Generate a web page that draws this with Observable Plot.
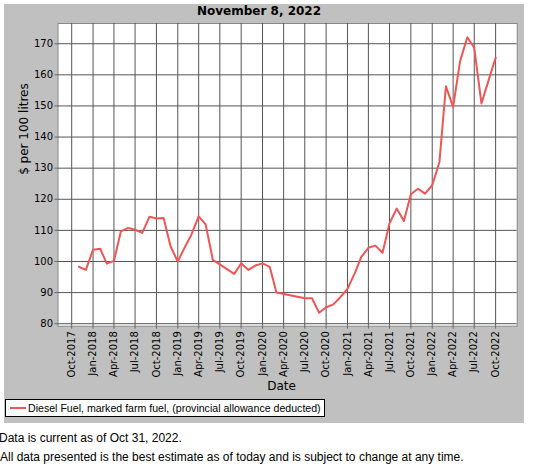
<!DOCTYPE html>
<html>
<head>
<meta charset="utf-8">
<script src="https://cdn.jsdelivr.net/npm/d3@7"></script>
<script src="https://cdn.jsdelivr.net/npm/@observablehq/plot@0.6"></script>
<style>
  body { margin: 0; background: white; font-family: "Liberation Sans", Arial, sans-serif; }
  #panel { position: absolute; left: 4px; top: 4px; width: 520px; height: 419px; background: #c0c0c0; }
  #title { height: 18px; line-height: 18px; text-align: center; padding-right: 10px; font: bold 12px "DejaVu Sans", sans-serif; }
  #legend { position: absolute; left: 1px; top: 395px; height: 16px; padding-right: 3px; border: 1px solid black; background: white;
            display: flex; align-items: center; font-size: 10.6px; white-space: nowrap; }
  #legend .swatch { flex: none; width: 16px; height: 2px; background: #f05555; margin: 0 2px 0 4px; }
  .note { position: absolute; font-size: 12px; line-height: 14px; white-space: nowrap; }
</style>
</head>
<body>
<div id="panel">
  <div id="title">November 8, 2022</div>
  <div id="chart"></div>
  <div id="legend"><span class="swatch"></span><span>Diesel Fuel, marked farm fuel, (provincial allowance deducted)</span></div>
</div>
<div class="note" style="left:-1px; top:431px">Data is current as of Oct 31, 2022.</div>
<div class="note" style="left:0; top:450px">All data presented is the best estimate as of today and is subject to change at any time.</div>
<script>
// monthly prices, $ per 100 litres (some months missing in the source)
const months = [
  "2017-11", "2017-12",
  "2018-01", "2018-02", "2018-03", "2018-04", "2018-05", "2018-06",
  "2018-07", "2018-08", "2018-09", "2018-10", "2018-11", "2018-12",
  "2019-01", "2019-02", "2019-03", "2019-04", "2019-05", "2019-06",
  "2019-09", "2019-10", "2019-11", "2019-12",
  "2020-01", "2020-02", "2020-03",
  "2020-07", "2020-08", "2020-09", "2020-10", "2020-11", "2020-12",
  "2021-01", "2021-02", "2021-03", "2021-04", "2021-05", "2021-06",
  "2021-07", "2021-08", "2021-09", "2021-10", "2021-11", "2021-12",
  "2022-01", "2022-02", "2022-03", "2022-04", "2022-05", "2022-06",
  "2022-07", "2022-08", "2022-09", "2022-10"
]
const prices = [
  98.3, 97.3,
  103.8, 104.1, 99.3, 100.2, 109.7, 110.8,
  110.2, 109.2, 114.4, 113.8, 114.0, 104.8,
  100.0, 104.7, 108.7, 114.5, 111.9, 100.5,
  96.0, 99.4, 97.3, 98.7,
  99.4, 98.3, 90.0,
  88.2, 88.2, 83.5, 85.3, 86.2, 88.5,
  91.2, 96.2, 101.4, 104.4, 105.1, 102.8,
  112.3, 117.0, 113.0, 121.6, 123.4, 121.8,
  124.5, 132.0, 156.3, 149.7, 164.4, 172.1,
  168.7, 150.8, 158.3, 165.5
]
const tickLabels = [
  "Oct-2017", "Jan-2018", "Apr-2018", "Jul-2018", "Oct-2018", "Jan-2019", "Apr-2019",
  "Jul-2019", "Oct-2019", "Jan-2020", "Apr-2020", "Jul-2020", "Oct-2020", "Jan-2021",
  "Apr-2021", "Jul-2021", "Oct-2021", "Jan-2022", "Apr-2022", "Jul-2022", "Oct-2022"
]
const yTicks = [80, 90, 100, 110, 120, 130, 140, 150, 160, 170]

const parseMonth = d3.utcParse("%Y-%m")
const parseTick = d3.utcParse("%b-%Y")
const data = months.map((m, i) => ({date: parseMonth(m), price: prices[i]}))
const xTicks = tickLabels.map(parseTick)

const chart = Plot.plot({
  width: 520,
  height: 372,
  marginTop: 1,
  marginLeft: 53.5,
  marginRight: 7.3,
  marginBottom: 68.3,
  style: {background: "transparent", fontFamily: "DejaVu Sans, sans-serif", fontSize: "10px", color: "black"},
  x: {type: "utc", domain: [new Date(Date.UTC(2017, 7, 3)), new Date(Date.UTC(2023, 0, 2))]},
  y: {domain: [79.2, 176.5]},
  marks: [
    Plot.frame({fill: "white", stroke: "#888"}),
    Plot.gridX(xTicks, {stroke: "#555", strokeOpacity: 1}),
    Plot.gridY(yTicks, {stroke: "#555", strokeOpacity: 1}),
    Plot.axisX(xTicks, {tickFormat: d3.utcFormat("%b-%Y"), tickRotate: -90, tickSize: 3, tickPadding: 2, stroke: "#666", label: null}),
    Plot.axisY(yTicks, {tickSize: 3, tickPadding: 2, stroke: "#666", label: null}),
    Plot.line(data, {x: "date", y: "price", stroke: "#f05555", strokeWidth: 2}),
    Plot.text(["$ per 100 litres"], {text: d => d, frameAnchor: "left", rotate: -90, dx: -34, fontSize: 12}),
    Plot.text(["Date"], {text: d => d, frameAnchor: "bottom", dx: -6, dy: 64, fontSize: 12})
  ]
})

d3.select('#chart').append(() => chart)
</script>
</body>
</html>
